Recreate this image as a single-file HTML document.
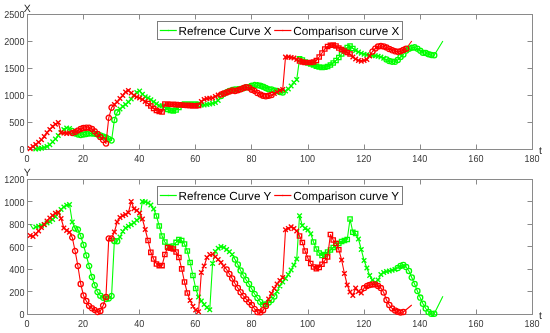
<!DOCTYPE html>
<html><head><meta charset="utf-8"><style>
html,body{margin:0;padding:0;background:#fff;width:550px;height:333px;overflow:hidden}
svg{display:block;text-rendering:geometricPrecision}
.tl{font-family:"Liberation Sans",Arial,sans-serif;font-size:9.2px;fill:#383838}
.al{font-family:"Liberation Sans",Arial,sans-serif;font-size:10.5px;fill:#2a2a2a}
.lg{font-family:"Liberation Sans",Arial,sans-serif;font-size:11.7px;fill:#000}
</style></head><body>
<svg width="550" height="333" viewBox="0 0 550 333">
<rect width="550" height="333" fill="#fff"/>
<path d="M27.5 149.5v-5M27.5 14.5v5M83.5 149.5v-5M83.5 14.5v5M139.5 149.5v-5M139.5 14.5v5M195.5 149.5v-5M195.5 14.5v5M251.5 149.5v-5M251.5 14.5v5M308.5 149.5v-5M308.5 14.5v5M364.5 149.5v-5M364.5 14.5v5M420.5 149.5v-5M420.5 14.5v5M476.5 149.5v-5M476.5 14.5v5M532.5 149.5v-5M532.5 14.5v5M27.5 149.5h5M532.5 149.5h-5M27.5 122.5h5M532.5 122.5h-5M27.5 95.5h5M532.5 95.5h-5M27.5 68.5h5M532.5 68.5h-5M27.5 41.5h5M532.5 41.5h-5M27.5 14.5h5M532.5 14.5h-5" stroke="#8a8a8a" stroke-width="1.0" fill="none"/>
<rect x="27.5" y="14.5" width="505" height="135" fill="none" stroke="#8a8a8a" stroke-width="1.0"/>
<text transform="translate(27 162) scale(0.98 1.1)" text-anchor="middle" class="tl">0</text>
<text transform="translate(83.11 162) scale(0.98 1.1)" text-anchor="middle" class="tl">20</text>
<text transform="translate(139.22 162) scale(0.98 1.1)" text-anchor="middle" class="tl">40</text>
<text transform="translate(195.33 162) scale(0.98 1.1)" text-anchor="middle" class="tl">60</text>
<text transform="translate(251.44 162) scale(0.98 1.1)" text-anchor="middle" class="tl">80</text>
<text transform="translate(307.56 162) scale(0.98 1.1)" text-anchor="middle" class="tl">100</text>
<text transform="translate(363.67 162) scale(0.98 1.1)" text-anchor="middle" class="tl">120</text>
<text transform="translate(419.78 162) scale(0.98 1.1)" text-anchor="middle" class="tl">140</text>
<text transform="translate(475.89 162) scale(0.98 1.1)" text-anchor="middle" class="tl">160</text>
<text transform="translate(532 162) scale(0.98 1.1)" text-anchor="middle" class="tl">180</text>
<text transform="translate(24.4 153.2) scale(0.98 1.1)" text-anchor="end" class="tl">0</text>
<text transform="translate(24.4 126.2) scale(0.98 1.1)" text-anchor="end" class="tl">500</text>
<text transform="translate(24.4 99.2) scale(0.98 1.1)" text-anchor="end" class="tl">1000</text>
<text transform="translate(24.4 72.2) scale(0.98 1.1)" text-anchor="end" class="tl">1500</text>
<text transform="translate(24.4 45.2) scale(0.98 1.1)" text-anchor="end" class="tl">2000</text>
<text transform="translate(24.4 18.2) scale(0.98 1.1)" text-anchor="end" class="tl">2500</text>
<text x="27.2" y="11.9" text-anchor="middle" class="al">X</text>
<text x="540.5" y="154" text-anchor="middle" class="al">t</text>
<polyline points="406.15,48.8 411.76,41" fill="none" stroke="#ff0000" stroke-width="1.1" stroke-linejoin="round"/>
<polyline points="35.82,149 38.62,148.6 41.43,148.2 44.23,147.5 47.04,146.5 49.84,144.7 52.65,141.8 55.46,139 58.26,135.5 61.07,132.5 63.87,129.5 66.68,128 69.48,128.5 72.29,131 75.09,133.5 77.9,134.5 80.71,135 83.51,134.5 86.32,134 89.12,133.5 91.93,133.5 94.73,133.8 97.54,134.5 100.34,135.5 103.15,136.5 105.96,137.5 108.76,139 111.57,140.5 114.37,120 117.18,112.4 119.98,109 122.79,106.5 125.59,104.5 128.4,102 131.21,99 134.01,95.5 136.82,92.5 139.62,91 142.43,94.2 145.23,96.7 148.04,98 150.84,99.7 153.65,101.7 156.46,103.7 159.26,105.7 162.07,105.8 164.87,107.5 167.68,109.5 170.48,110.5 173.29,111 176.09,110 178.9,107.5 181.71,105 184.51,104 187.32,104 190.12,104 192.93,104 195.73,104 198.54,104.5 201.34,105 204.15,105 206.96,104.5 209.76,104 212.57,103.4 215.37,102.5 218.18,100.5 220.98,96 223.79,93.8 226.59,92.2 229.4,91.1 232.21,90.1 235.01,89.4 237.82,89.2 240.62,89 243.43,88.2 246.23,87.2 249.04,87.1 251.84,85.8 254.65,85 257.46,85.3 260.26,85.8 263.07,86.8 265.87,88.1 268.68,89.3 271.48,89.5 274.29,90.5 277.09,91 279.9,92 282.71,92.5 285.51,91 288.32,89 291.12,86 293.93,82.5 296.73,79.6 299.54,58.9 302.34,60 305.15,62 307.96,62.8 310.76,63.8 313.57,65 316.37,66.2 319.18,67 321.98,67.3 324.79,67.2 327.59,66.5 330.4,65 333.21,63 336.01,60.5 338.82,57.5 341.62,54 344.43,50.5 347.23,47.5 350.04,46 352.84,48.5 355.65,50.5 358.46,52 361.26,53.2 364.07,54.2 366.87,54.8 369.68,55.2 372.48,55.5 375.29,55.8 378.09,56.3 380.9,57 383.71,58.3 386.51,59.5 389.32,61 392.12,61.8 394.93,61.8 397.73,60 400.54,57 403.34,54.5 406.15,50.5 408.96,48.7 411.76,47.7 414.57,47.4 417.37,48.7 420.18,50.7 422.98,52.7 425.79,53 428.59,54.3 431.4,55 434.21,55.2 442.9,41" fill="none" stroke="#00ff00" stroke-width="1.1" stroke-linejoin="round"/>
<path d="M162.72 105.35h4.3v4.3h-4.3zM165.53 107.35h4.3v4.3h-4.3zM168.33 108.35h4.3v4.3h-4.3zM171.14 108.85h4.3v4.3h-4.3zM173.94 107.85h4.3v4.3h-4.3zM176.75 105.35h4.3v4.3h-4.3zM179.56 102.85h4.3v4.3h-4.3zM182.36 101.85h4.3v4.3h-4.3zM185.17 101.85h4.3v4.3h-4.3zM187.97 101.85h4.3v4.3h-4.3zM190.78 101.85h4.3v4.3h-4.3zM193.58 101.85h4.3v4.3h-4.3zM196.39 102.35h4.3v4.3h-4.3zM297.39 56.75h4.3v4.3h-4.3zM300.19 57.85h4.3v4.3h-4.3zM303 59.85h4.3v4.3h-4.3zM305.81 60.65h4.3v4.3h-4.3zM308.61 61.65h4.3v4.3h-4.3zM311.42 62.85h4.3v4.3h-4.3zM314.22 64.05h4.3v4.3h-4.3zM317.03 64.85h4.3v4.3h-4.3zM319.83 65.15h4.3v4.3h-4.3zM322.64 65.05h4.3v4.3h-4.3zM325.44 64.35h4.3v4.3h-4.3zM328.25 62.85h4.3v4.3h-4.3zM331.06 60.85h4.3v4.3h-4.3zM333.86 58.35h4.3v4.3h-4.3zM336.67 55.35h4.3v4.3h-4.3zM339.47 51.85h4.3v4.3h-4.3zM342.28 48.35h4.3v4.3h-4.3zM345.08 45.35h4.3v4.3h-4.3zM347.89 43.85h4.3v4.3h-4.3zM350.69 46.35h4.3v4.3h-4.3z" fill="none" stroke="#00ff00" stroke-width="1.35"/>
<path d="M69.69 131a2.6 2.6 0 1 0 5.2 0a2.6 2.6 0 1 0 -5.2 0M72.49 133.5a2.6 2.6 0 1 0 5.2 0a2.6 2.6 0 1 0 -5.2 0M75.3 134.5a2.6 2.6 0 1 0 5.2 0a2.6 2.6 0 1 0 -5.2 0M78.11 135a2.6 2.6 0 1 0 5.2 0a2.6 2.6 0 1 0 -5.2 0M80.91 134.5a2.6 2.6 0 1 0 5.2 0a2.6 2.6 0 1 0 -5.2 0M83.72 134a2.6 2.6 0 1 0 5.2 0a2.6 2.6 0 1 0 -5.2 0M86.52 133.5a2.6 2.6 0 1 0 5.2 0a2.6 2.6 0 1 0 -5.2 0M89.33 133.5a2.6 2.6 0 1 0 5.2 0a2.6 2.6 0 1 0 -5.2 0M92.13 133.8a2.6 2.6 0 1 0 5.2 0a2.6 2.6 0 1 0 -5.2 0M94.94 134.5a2.6 2.6 0 1 0 5.2 0a2.6 2.6 0 1 0 -5.2 0M97.74 135.5a2.6 2.6 0 1 0 5.2 0a2.6 2.6 0 1 0 -5.2 0M100.55 136.5a2.6 2.6 0 1 0 5.2 0a2.6 2.6 0 1 0 -5.2 0M103.36 137.5a2.6 2.6 0 1 0 5.2 0a2.6 2.6 0 1 0 -5.2 0M106.16 139a2.6 2.6 0 1 0 5.2 0a2.6 2.6 0 1 0 -5.2 0M108.97 140.5a2.6 2.6 0 1 0 5.2 0a2.6 2.6 0 1 0 -5.2 0M111.77 120a2.6 2.6 0 1 0 5.2 0a2.6 2.6 0 1 0 -5.2 0M114.58 112.4a2.6 2.6 0 1 0 5.2 0a2.6 2.6 0 1 0 -5.2 0M218.38 96a2.6 2.6 0 1 0 5.2 0a2.6 2.6 0 1 0 -5.2 0M221.19 93.8a2.6 2.6 0 1 0 5.2 0a2.6 2.6 0 1 0 -5.2 0M223.99 92.2a2.6 2.6 0 1 0 5.2 0a2.6 2.6 0 1 0 -5.2 0M226.8 91.1a2.6 2.6 0 1 0 5.2 0a2.6 2.6 0 1 0 -5.2 0M229.61 90.1a2.6 2.6 0 1 0 5.2 0a2.6 2.6 0 1 0 -5.2 0M232.41 89.4a2.6 2.6 0 1 0 5.2 0a2.6 2.6 0 1 0 -5.2 0M235.22 89.2a2.6 2.6 0 1 0 5.2 0a2.6 2.6 0 1 0 -5.2 0M238.02 89a2.6 2.6 0 1 0 5.2 0a2.6 2.6 0 1 0 -5.2 0M240.83 88.2a2.6 2.6 0 1 0 5.2 0a2.6 2.6 0 1 0 -5.2 0M243.63 87.2a2.6 2.6 0 1 0 5.2 0a2.6 2.6 0 1 0 -5.2 0M246.44 87.1a2.6 2.6 0 1 0 5.2 0a2.6 2.6 0 1 0 -5.2 0M249.24 85.8a2.6 2.6 0 1 0 5.2 0a2.6 2.6 0 1 0 -5.2 0M252.05 85a2.6 2.6 0 1 0 5.2 0a2.6 2.6 0 1 0 -5.2 0M254.86 85.3a2.6 2.6 0 1 0 5.2 0a2.6 2.6 0 1 0 -5.2 0M257.66 85.8a2.6 2.6 0 1 0 5.2 0a2.6 2.6 0 1 0 -5.2 0M260.47 86.8a2.6 2.6 0 1 0 5.2 0a2.6 2.6 0 1 0 -5.2 0M263.27 88.1a2.6 2.6 0 1 0 5.2 0a2.6 2.6 0 1 0 -5.2 0M266.08 89.3a2.6 2.6 0 1 0 5.2 0a2.6 2.6 0 1 0 -5.2 0M268.88 89.5a2.6 2.6 0 1 0 5.2 0a2.6 2.6 0 1 0 -5.2 0M271.69 90.5a2.6 2.6 0 1 0 5.2 0a2.6 2.6 0 1 0 -5.2 0M274.49 91a2.6 2.6 0 1 0 5.2 0a2.6 2.6 0 1 0 -5.2 0M277.3 92a2.6 2.6 0 1 0 5.2 0a2.6 2.6 0 1 0 -5.2 0M280.11 92.5a2.6 2.6 0 1 0 5.2 0a2.6 2.6 0 1 0 -5.2 0M383.91 59.5a2.6 2.6 0 1 0 5.2 0a2.6 2.6 0 1 0 -5.2 0M386.72 61a2.6 2.6 0 1 0 5.2 0a2.6 2.6 0 1 0 -5.2 0M389.52 61.8a2.6 2.6 0 1 0 5.2 0a2.6 2.6 0 1 0 -5.2 0M392.33 61.8a2.6 2.6 0 1 0 5.2 0a2.6 2.6 0 1 0 -5.2 0M395.13 60a2.6 2.6 0 1 0 5.2 0a2.6 2.6 0 1 0 -5.2 0M397.94 57a2.6 2.6 0 1 0 5.2 0a2.6 2.6 0 1 0 -5.2 0M400.74 54.5a2.6 2.6 0 1 0 5.2 0a2.6 2.6 0 1 0 -5.2 0M403.55 50.5a2.6 2.6 0 1 0 5.2 0a2.6 2.6 0 1 0 -5.2 0M406.36 48.7a2.6 2.6 0 1 0 5.2 0a2.6 2.6 0 1 0 -5.2 0M409.16 47.7a2.6 2.6 0 1 0 5.2 0a2.6 2.6 0 1 0 -5.2 0M411.97 47.4a2.6 2.6 0 1 0 5.2 0a2.6 2.6 0 1 0 -5.2 0M414.77 48.7a2.6 2.6 0 1 0 5.2 0a2.6 2.6 0 1 0 -5.2 0M417.58 50.7a2.6 2.6 0 1 0 5.2 0a2.6 2.6 0 1 0 -5.2 0M420.38 52.7a2.6 2.6 0 1 0 5.2 0a2.6 2.6 0 1 0 -5.2 0M423.19 53a2.6 2.6 0 1 0 5.2 0a2.6 2.6 0 1 0 -5.2 0M425.99 54.3a2.6 2.6 0 1 0 5.2 0a2.6 2.6 0 1 0 -5.2 0M428.8 55a2.6 2.6 0 1 0 5.2 0a2.6 2.6 0 1 0 -5.2 0M431.61 55.2a2.6 2.6 0 1 0 5.2 0a2.6 2.6 0 1 0 -5.2 0" fill="none" stroke="#00ff00" stroke-width="1.35"/>
<path d="M33.52 146.7L38.12 151.3M33.52 151.3L38.12 146.7M36.32 146.3L40.92 150.9M36.32 150.9L40.92 146.3M39.13 145.9L43.73 150.5M39.13 150.5L43.73 145.9M41.93 145.2L46.53 149.8M41.93 149.8L46.53 145.2M44.74 144.2L49.34 148.8M44.74 148.8L49.34 144.2M47.54 142.4L52.14 147M47.54 147L52.14 142.4M50.35 139.5L54.95 144.1M50.35 144.1L54.95 139.5M53.16 136.7L57.76 141.3M53.16 141.3L57.76 136.7M55.96 133.2L60.56 137.8M55.96 137.8L60.56 133.2M58.77 130.2L63.37 134.8M58.77 134.8L63.37 130.2M61.57 127.2L66.17 131.8M61.57 131.8L66.17 127.2M64.38 125.7L68.98 130.3M64.38 130.3L68.98 125.7M67.18 126.2L71.78 130.8M67.18 130.8L71.78 126.2M117.68 106.7L122.28 111.3M117.68 111.3L122.28 106.7M120.49 104.2L125.09 108.8M120.49 108.8L125.09 104.2M123.29 102.2L127.89 106.8M123.29 106.8L127.89 102.2M126.1 99.7L130.7 104.3M126.1 104.3L130.7 99.7M128.91 96.7L133.51 101.3M128.91 101.3L133.51 96.7M131.71 93.2L136.31 97.8M131.71 97.8L136.31 93.2M134.52 90.2L139.12 94.8M134.52 94.8L139.12 90.2M137.32 88.7L141.92 93.3M137.32 93.3L141.92 88.7M140.13 91.9L144.73 96.5M140.13 96.5L144.73 91.9M142.93 94.4L147.53 99M142.93 99L147.53 94.4M145.74 95.7L150.34 100.3M145.74 100.3L150.34 95.7M148.54 97.4L153.14 102M148.54 102L153.14 97.4M151.35 99.4L155.95 104M151.35 104L155.95 99.4M154.16 101.4L158.76 106M154.16 106L158.76 101.4M156.96 103.4L161.56 108M156.96 108L161.56 103.4M159.77 103.5L164.37 108.1M159.77 108.1L164.37 103.5M199.04 102.7L203.64 107.3M199.04 107.3L203.64 102.7M201.85 102.7L206.45 107.3M201.85 107.3L206.45 102.7M204.66 102.2L209.26 106.8M204.66 106.8L209.26 102.2M207.46 101.7L212.06 106.3M207.46 106.3L212.06 101.7M210.27 101.1L214.87 105.7M210.27 105.7L214.87 101.1M213.07 100.2L217.67 104.8M213.07 104.8L217.67 100.2M215.88 98.2L220.48 102.8M215.88 102.8L220.48 98.2M283.21 88.7L287.81 93.3M283.21 93.3L287.81 88.7M286.02 86.7L290.62 91.3M286.02 91.3L290.62 86.7M288.82 83.7L293.42 88.3M288.82 88.3L293.42 83.7M291.63 80.2L296.23 84.8M291.63 84.8L296.23 80.2M294.43 77.3L299.03 81.9M294.43 81.9L299.03 77.3M353.35 48.2L357.95 52.8M353.35 52.8L357.95 48.2M356.16 49.7L360.76 54.3M356.16 54.3L360.76 49.7M358.96 50.9L363.56 55.5M358.96 55.5L363.56 50.9M361.77 51.9L366.37 56.5M361.77 56.5L366.37 51.9M364.57 52.5L369.17 57.1M364.57 57.1L369.17 52.5M367.38 52.9L371.98 57.5M367.38 57.5L371.98 52.9M370.18 53.2L374.78 57.8M370.18 57.8L374.78 53.2M372.99 53.5L377.59 58.1M372.99 58.1L377.59 53.5M375.79 54L380.39 58.6M375.79 58.6L380.39 54M378.6 54.7L383.2 59.3M378.6 59.3L383.2 54.7M381.41 56L386.01 60.6M381.41 60.6L386.01 56" fill="none" stroke="#00ff00" stroke-width="1.35"/>
<polyline points="30.21,148.6 33.01,146.5 35.82,144.5 38.62,142.3 41.43,139.8 44.23,136.5 47.04,132.7 49.84,129.5 52.65,126.5 55.46,124.3 58.26,122.5 61.07,132.7 63.87,133 66.68,133.5 69.48,133 72.29,133 75.09,132 77.9,130.5 80.71,129 83.51,128 86.32,127.7 89.12,127.8 91.93,129 94.73,131.4 97.54,134 100.34,137 103.15,140 105.96,143.5 108.76,117.8 111.57,107.6 114.37,104.5 117.18,102 119.98,98.5 122.79,95.5 125.59,92 128.4,90.5 131.21,93 134.01,95.5 136.82,97 139.62,98 142.43,99.5 145.23,101.5 148.04,103.5 150.84,106 153.65,108.5 156.46,110.5 159.26,111.5 162.07,112 164.87,104 167.68,104 170.48,104.2 173.29,104.4 176.09,104.6 178.9,104.8 181.71,105 184.51,105.2 187.32,105.4 190.12,105.6 192.93,105.8 195.73,106 198.54,105.5 201.34,101.5 204.15,99.5 206.96,98.5 209.76,98.2 212.57,98 215.37,96.5 218.18,95 220.98,94.5 223.79,93.5 226.59,92.5 229.4,91.5 232.21,90.5 235.01,91 237.82,90.2 240.62,89.2 243.43,88 246.23,87.2 249.04,87.7 251.84,89.7 254.65,91 257.46,93 260.26,94.5 263.07,95.8 265.87,96.2 268.68,95.8 271.48,95 274.29,93.5 277.09,92 279.9,90.5 282.71,89.5 285.51,57.1 288.32,57 291.12,57.5 293.93,58 296.73,59.5 299.54,61 302.34,62 305.15,62.5 307.96,62.5 310.76,62.5 313.57,62 316.37,60.5 319.18,57 321.98,53 324.79,49 327.59,46.5 330.4,45.2 333.21,45 336.01,46 338.82,48 341.62,49.5 344.43,51 347.23,52.5 350.04,54 352.84,57 355.65,59 358.46,60.5 361.26,61.2 364.07,60.5 366.87,59.5 369.68,56 372.48,51.5 375.29,48.5 378.09,46.5 380.9,46 383.71,46.5 386.51,47.5 389.32,49 392.12,50.3 394.93,51.3 397.73,51.7 400.54,51.3 403.34,50 406.15,48.8" fill="none" stroke="#ff0000" stroke-width="1.1" stroke-linejoin="round"/>
<path d="M145.89 101.35h4.3v4.3h-4.3zM148.69 103.85h4.3v4.3h-4.3zM151.5 106.35h4.3v4.3h-4.3zM154.31 108.35h4.3v4.3h-4.3zM157.11 109.35h4.3v4.3h-4.3zM159.92 109.85h4.3v4.3h-4.3zM162.72 101.85h4.3v4.3h-4.3zM165.53 101.85h4.3v4.3h-4.3zM168.33 102.05h4.3v4.3h-4.3zM171.14 102.25h4.3v4.3h-4.3zM173.94 102.45h4.3v4.3h-4.3zM176.75 102.65h4.3v4.3h-4.3zM179.56 102.85h4.3v4.3h-4.3zM182.36 103.05h4.3v4.3h-4.3zM185.17 103.25h4.3v4.3h-4.3zM187.97 103.45h4.3v4.3h-4.3zM190.78 103.65h4.3v4.3h-4.3zM193.58 103.85h4.3v4.3h-4.3zM196.39 103.35h4.3v4.3h-4.3zM297.39 58.85h4.3v4.3h-4.3zM300.19 59.85h4.3v4.3h-4.3zM303 60.35h4.3v4.3h-4.3zM305.81 60.35h4.3v4.3h-4.3zM308.61 60.35h4.3v4.3h-4.3zM311.42 59.85h4.3v4.3h-4.3zM314.22 58.35h4.3v4.3h-4.3zM317.03 54.85h4.3v4.3h-4.3zM319.83 50.85h4.3v4.3h-4.3zM322.64 46.85h4.3v4.3h-4.3zM325.44 44.35h4.3v4.3h-4.3zM328.25 43.05h4.3v4.3h-4.3zM331.06 42.85h4.3v4.3h-4.3zM333.86 43.85h4.3v4.3h-4.3zM336.67 45.85h4.3v4.3h-4.3zM339.47 47.35h4.3v4.3h-4.3zM342.28 48.85h4.3v4.3h-4.3zM345.08 50.35h4.3v4.3h-4.3zM347.89 51.85h4.3v4.3h-4.3z" fill="none" stroke="#ff0000" stroke-width="1.35"/>
<path d="M69.69 133a2.6 2.6 0 1 0 5.2 0a2.6 2.6 0 1 0 -5.2 0M72.49 132a2.6 2.6 0 1 0 5.2 0a2.6 2.6 0 1 0 -5.2 0M75.3 130.5a2.6 2.6 0 1 0 5.2 0a2.6 2.6 0 1 0 -5.2 0M78.11 129a2.6 2.6 0 1 0 5.2 0a2.6 2.6 0 1 0 -5.2 0M80.91 128a2.6 2.6 0 1 0 5.2 0a2.6 2.6 0 1 0 -5.2 0M83.72 127.7a2.6 2.6 0 1 0 5.2 0a2.6 2.6 0 1 0 -5.2 0M86.52 127.8a2.6 2.6 0 1 0 5.2 0a2.6 2.6 0 1 0 -5.2 0M89.33 129a2.6 2.6 0 1 0 5.2 0a2.6 2.6 0 1 0 -5.2 0M92.13 131.4a2.6 2.6 0 1 0 5.2 0a2.6 2.6 0 1 0 -5.2 0M94.94 134a2.6 2.6 0 1 0 5.2 0a2.6 2.6 0 1 0 -5.2 0M97.74 137a2.6 2.6 0 1 0 5.2 0a2.6 2.6 0 1 0 -5.2 0M100.55 140a2.6 2.6 0 1 0 5.2 0a2.6 2.6 0 1 0 -5.2 0M103.36 143.5a2.6 2.6 0 1 0 5.2 0a2.6 2.6 0 1 0 -5.2 0M106.16 117.8a2.6 2.6 0 1 0 5.2 0a2.6 2.6 0 1 0 -5.2 0M108.97 107.6a2.6 2.6 0 1 0 5.2 0a2.6 2.6 0 1 0 -5.2 0M218.38 94.5a2.6 2.6 0 1 0 5.2 0a2.6 2.6 0 1 0 -5.2 0M221.19 93.5a2.6 2.6 0 1 0 5.2 0a2.6 2.6 0 1 0 -5.2 0M223.99 92.5a2.6 2.6 0 1 0 5.2 0a2.6 2.6 0 1 0 -5.2 0M226.8 91.5a2.6 2.6 0 1 0 5.2 0a2.6 2.6 0 1 0 -5.2 0M229.61 90.5a2.6 2.6 0 1 0 5.2 0a2.6 2.6 0 1 0 -5.2 0M232.41 91a2.6 2.6 0 1 0 5.2 0a2.6 2.6 0 1 0 -5.2 0M235.22 90.2a2.6 2.6 0 1 0 5.2 0a2.6 2.6 0 1 0 -5.2 0M238.02 89.2a2.6 2.6 0 1 0 5.2 0a2.6 2.6 0 1 0 -5.2 0M240.83 88a2.6 2.6 0 1 0 5.2 0a2.6 2.6 0 1 0 -5.2 0M243.63 87.2a2.6 2.6 0 1 0 5.2 0a2.6 2.6 0 1 0 -5.2 0M246.44 87.7a2.6 2.6 0 1 0 5.2 0a2.6 2.6 0 1 0 -5.2 0M249.24 89.7a2.6 2.6 0 1 0 5.2 0a2.6 2.6 0 1 0 -5.2 0M252.05 91a2.6 2.6 0 1 0 5.2 0a2.6 2.6 0 1 0 -5.2 0M254.86 93a2.6 2.6 0 1 0 5.2 0a2.6 2.6 0 1 0 -5.2 0M257.66 94.5a2.6 2.6 0 1 0 5.2 0a2.6 2.6 0 1 0 -5.2 0M260.47 95.8a2.6 2.6 0 1 0 5.2 0a2.6 2.6 0 1 0 -5.2 0M263.27 96.2a2.6 2.6 0 1 0 5.2 0a2.6 2.6 0 1 0 -5.2 0M266.08 95.8a2.6 2.6 0 1 0 5.2 0a2.6 2.6 0 1 0 -5.2 0M268.88 95a2.6 2.6 0 1 0 5.2 0a2.6 2.6 0 1 0 -5.2 0M369.88 51.5a2.6 2.6 0 1 0 5.2 0a2.6 2.6 0 1 0 -5.2 0M372.69 48.5a2.6 2.6 0 1 0 5.2 0a2.6 2.6 0 1 0 -5.2 0M375.49 46.5a2.6 2.6 0 1 0 5.2 0a2.6 2.6 0 1 0 -5.2 0M378.3 46a2.6 2.6 0 1 0 5.2 0a2.6 2.6 0 1 0 -5.2 0M381.11 46.5a2.6 2.6 0 1 0 5.2 0a2.6 2.6 0 1 0 -5.2 0M383.91 47.5a2.6 2.6 0 1 0 5.2 0a2.6 2.6 0 1 0 -5.2 0M386.72 49a2.6 2.6 0 1 0 5.2 0a2.6 2.6 0 1 0 -5.2 0M389.52 50.3a2.6 2.6 0 1 0 5.2 0a2.6 2.6 0 1 0 -5.2 0M392.33 51.3a2.6 2.6 0 1 0 5.2 0a2.6 2.6 0 1 0 -5.2 0M395.13 51.7a2.6 2.6 0 1 0 5.2 0a2.6 2.6 0 1 0 -5.2 0M397.94 51.3a2.6 2.6 0 1 0 5.2 0a2.6 2.6 0 1 0 -5.2 0M400.74 50a2.6 2.6 0 1 0 5.2 0a2.6 2.6 0 1 0 -5.2 0M403.55 48.8a2.6 2.6 0 1 0 5.2 0a2.6 2.6 0 1 0 -5.2 0" fill="none" stroke="#ff0000" stroke-width="1.35"/>
<path d="M27.91 146.3L32.51 150.9M27.91 150.9L32.51 146.3M30.71 144.2L35.31 148.8M30.71 148.8L35.31 144.2M33.52 142.2L38.12 146.8M33.52 146.8L38.12 142.2M36.32 140L40.92 144.6M36.32 144.6L40.92 140M39.13 137.5L43.73 142.1M39.13 142.1L43.73 137.5M41.93 134.2L46.53 138.8M41.93 138.8L46.53 134.2M44.74 130.4L49.34 135M44.74 135L49.34 130.4M47.54 127.2L52.14 131.8M47.54 131.8L52.14 127.2M50.35 124.2L54.95 128.8M50.35 128.8L54.95 124.2M53.16 122L57.76 126.6M53.16 126.6L57.76 122M55.96 120.2L60.56 124.8M55.96 124.8L60.56 120.2M58.77 130.4L63.37 135M58.77 135L63.37 130.4M61.57 130.7L66.17 135.3M61.57 135.3L66.17 130.7M64.38 131.2L68.98 135.8M64.38 135.8L68.98 131.2M67.18 130.7L71.78 135.3M67.18 135.3L71.78 130.7M112.07 102.2L116.67 106.8M112.07 106.8L116.67 102.2M114.88 99.7L119.48 104.3M114.88 104.3L119.48 99.7M117.68 96.2L122.28 100.8M117.68 100.8L122.28 96.2M120.49 93.2L125.09 97.8M120.49 97.8L125.09 93.2M123.29 89.7L127.89 94.3M123.29 94.3L127.89 89.7M126.1 88.2L130.7 92.8M126.1 92.8L130.7 88.2M128.91 90.7L133.51 95.3M128.91 95.3L133.51 90.7M131.71 93.2L136.31 97.8M131.71 97.8L136.31 93.2M134.52 94.7L139.12 99.3M134.52 99.3L139.12 94.7M137.32 95.7L141.92 100.3M137.32 100.3L141.92 95.7M140.13 97.2L144.73 101.8M140.13 101.8L144.73 97.2M142.93 99.2L147.53 103.8M142.93 103.8L147.53 99.2M199.04 99.2L203.64 103.8M199.04 103.8L203.64 99.2M201.85 97.2L206.45 101.8M201.85 101.8L206.45 97.2M204.66 96.2L209.26 100.8M204.66 100.8L209.26 96.2M207.46 95.9L212.06 100.5M207.46 100.5L212.06 95.9M210.27 95.7L214.87 100.3M210.27 100.3L214.87 95.7M213.07 94.2L217.67 98.8M213.07 98.8L217.67 94.2M215.88 92.7L220.48 97.3M215.88 97.3L220.48 92.7M271.99 91.2L276.59 95.8M271.99 95.8L276.59 91.2M274.79 89.7L279.39 94.3M274.79 94.3L279.39 89.7M277.6 88.2L282.2 92.8M277.6 92.8L282.2 88.2M280.41 87.2L285.01 91.8M280.41 91.8L285.01 87.2M283.21 54.8L287.81 59.4M283.21 59.4L287.81 54.8M286.02 54.7L290.62 59.3M286.02 59.3L290.62 54.7M288.82 55.2L293.42 59.8M288.82 59.8L293.42 55.2M291.63 55.7L296.23 60.3M291.63 60.3L296.23 55.7M294.43 57.2L299.03 61.8M294.43 61.8L299.03 57.2M350.54 54.7L355.14 59.3M350.54 59.3L355.14 54.7M353.35 56.7L357.95 61.3M353.35 61.3L357.95 56.7M356.16 58.2L360.76 62.8M356.16 62.8L360.76 58.2M358.96 58.9L363.56 63.5M358.96 63.5L363.56 58.9M361.77 58.2L366.37 62.8M361.77 62.8L366.37 58.2M364.57 57.2L369.17 61.8M364.57 61.8L369.17 57.2M367.38 53.7L371.98 58.3M367.38 58.3L371.98 53.7" fill="none" stroke="#ff0000" stroke-width="1.35"/>
<rect x="157.5" y="21.5" width="245" height="18" fill="#fff" stroke="#7d7d7d" stroke-width="1"/>
<path d="M159.8 30.5H176.8" stroke="#00ff00" stroke-width="1.2"/>
<circle cx="168.3" cy="30.5" r="0.75" fill="#00ff00"/>
<path d="M274.2 30.5H291.4" stroke="#ff0000" stroke-width="1.2"/>
<circle cx="282.8" cy="30.5" r="0.75" fill="#ff0000"/>
<text x="178.6" y="34.9" class="lg">Refrence Curve X</text>
<text x="293.3" y="34.9" class="lg">Comparison curve X</text>
<path d="M27.5 314.5v-5M27.5 179.5v5M83.5 314.5v-5M83.5 179.5v5M139.5 314.5v-5M139.5 179.5v5M195.5 314.5v-5M195.5 179.5v5M251.5 314.5v-5M251.5 179.5v5M308.5 314.5v-5M308.5 179.5v5M364.5 314.5v-5M364.5 179.5v5M420.5 314.5v-5M420.5 179.5v5M476.5 314.5v-5M476.5 179.5v5M532.5 314.5v-5M532.5 179.5v5M27.5 314.5h5M532.5 314.5h-5M27.5 291.5h5M532.5 291.5h-5M27.5 269.5h5M532.5 269.5h-5M27.5 246.5h5M532.5 246.5h-5M27.5 224.5h5M532.5 224.5h-5M27.5 201.5h5M532.5 201.5h-5M27.5 179.5h5M532.5 179.5h-5" stroke="#8a8a8a" stroke-width="1.0" fill="none"/>
<rect x="27.5" y="179.5" width="505" height="135" fill="none" stroke="#8a8a8a" stroke-width="1.0"/>
<text transform="translate(27 327) scale(0.98 1.1)" text-anchor="middle" class="tl">0</text>
<text transform="translate(83.11 327) scale(0.98 1.1)" text-anchor="middle" class="tl">20</text>
<text transform="translate(139.22 327) scale(0.98 1.1)" text-anchor="middle" class="tl">40</text>
<text transform="translate(195.33 327) scale(0.98 1.1)" text-anchor="middle" class="tl">60</text>
<text transform="translate(251.44 327) scale(0.98 1.1)" text-anchor="middle" class="tl">80</text>
<text transform="translate(307.56 327) scale(0.98 1.1)" text-anchor="middle" class="tl">100</text>
<text transform="translate(363.67 327) scale(0.98 1.1)" text-anchor="middle" class="tl">120</text>
<text transform="translate(419.78 327) scale(0.98 1.1)" text-anchor="middle" class="tl">140</text>
<text transform="translate(475.89 327) scale(0.98 1.1)" text-anchor="middle" class="tl">160</text>
<text transform="translate(532 327) scale(0.98 1.1)" text-anchor="middle" class="tl">180</text>
<text transform="translate(24.4 318.2) scale(0.98 1.1)" text-anchor="end" class="tl">0</text>
<text transform="translate(24.4 295.7) scale(0.98 1.1)" text-anchor="end" class="tl">200</text>
<text transform="translate(24.4 273.2) scale(0.98 1.1)" text-anchor="end" class="tl">400</text>
<text transform="translate(24.4 250.7) scale(0.98 1.1)" text-anchor="end" class="tl">600</text>
<text transform="translate(24.4 228.2) scale(0.98 1.1)" text-anchor="end" class="tl">800</text>
<text transform="translate(24.4 205.7) scale(0.98 1.1)" text-anchor="end" class="tl">1000</text>
<text transform="translate(24.4 183.2) scale(0.98 1.1)" text-anchor="end" class="tl">1200</text>
<text x="27.2" y="176.3" text-anchor="middle" class="al">Y</text>
<text x="540.5" y="319" text-anchor="middle" class="al">t</text>
<polyline points="30.21,224.3 33.01,228.8 35.82,227 38.62,226.2 41.43,225.5 44.23,224.8 47.04,223 49.84,221.5 52.65,219.5 55.46,216.5 58.26,213 61.07,209.5 63.87,207 66.68,205.3 69.48,204.5 72.29,222 75.09,228.5 77.9,229.5 80.71,236 83.51,245 86.32,255.5 89.12,266 91.93,277 94.73,285.3 97.54,292 100.34,295.7 103.15,297.8 105.96,299 108.76,298.5 111.57,296 114.37,241 117.18,241.2 119.98,237 122.79,231.5 125.59,228 128.4,226.2 131.21,224.6 134.01,222.8 136.82,220.2 139.62,218 142.43,201.6 145.23,201.8 148.04,203 150.84,205 153.65,209 156.46,216 159.26,226 162.07,236 164.87,242 167.68,246.5 170.48,247.5 173.29,246 176.09,242.4 178.9,239.5 181.71,240.5 184.51,244 187.32,251 190.12,262.5 192.93,275.5 195.73,288.5 198.54,297 201.34,301 204.15,304.5 206.96,307.5 209.76,309.8 212.57,263.5 215.37,251.5 218.18,248.2 220.98,246.6 223.79,247.5 226.59,249.5 229.4,251.8 232.21,254.5 235.01,259.5 237.82,264.5 240.62,270.5 243.43,275.5 246.23,280 249.04,284 251.84,289 254.65,294 257.46,298 260.26,302 263.07,304.8 265.87,304.2 268.68,302.5 271.48,300 274.29,296.5 277.09,291.5 279.9,286 282.71,282 285.51,278.5 288.32,274.6 291.12,270 293.93,265 296.73,259 299.54,215.7 302.34,225.5 305.15,228.3 307.96,230 310.76,233.9 313.57,242 316.37,249 319.18,253 321.98,255.5 324.79,254.5 327.59,252 330.4,250 333.21,247.5 336.01,245.5 338.82,243.5 341.62,241.5 344.43,240.5 347.23,239.5 350.04,219 352.84,232.2 355.65,233.5 358.46,239 361.26,249.5 364.07,260.5 366.87,268 369.68,275.5 372.48,280 375.29,282.5 378.09,280 380.9,274.5 383.71,272.5 386.51,271.5 389.32,271 392.12,270.3 394.93,269.5 397.73,268 400.54,266 403.34,265 406.15,267 408.96,271 411.76,277.5 414.57,284 417.37,291 420.18,297.6 422.98,303.8 425.79,308.5 428.59,312 431.4,313.8 434.21,313.8 442.9,296.3" fill="none" stroke="#00ff00" stroke-width="1.1" stroke-linejoin="round"/>
<path d="M154.31 213.85h4.3v4.3h-4.3zM157.11 223.85h4.3v4.3h-4.3zM159.92 233.85h4.3v4.3h-4.3zM162.72 239.85h4.3v4.3h-4.3zM165.53 244.35h4.3v4.3h-4.3zM168.33 245.35h4.3v4.3h-4.3zM171.14 243.85h4.3v4.3h-4.3zM173.94 240.25h4.3v4.3h-4.3zM176.75 237.35h4.3v4.3h-4.3zM179.56 238.35h4.3v4.3h-4.3zM182.36 241.85h4.3v4.3h-4.3zM185.17 248.85h4.3v4.3h-4.3zM187.97 260.35h4.3v4.3h-4.3zM190.78 273.35h4.3v4.3h-4.3zM193.58 286.35h4.3v4.3h-4.3zM311.42 239.85h4.3v4.3h-4.3zM314.22 246.85h4.3v4.3h-4.3zM317.03 250.85h4.3v4.3h-4.3zM319.83 253.35h4.3v4.3h-4.3zM322.64 252.35h4.3v4.3h-4.3zM325.44 249.85h4.3v4.3h-4.3zM328.25 247.85h4.3v4.3h-4.3zM331.06 245.35h4.3v4.3h-4.3zM333.86 243.35h4.3v4.3h-4.3zM336.67 241.35h4.3v4.3h-4.3zM339.47 239.35h4.3v4.3h-4.3zM342.28 238.35h4.3v4.3h-4.3zM345.08 237.35h4.3v4.3h-4.3zM347.89 216.85h4.3v4.3h-4.3zM350.69 230.05h4.3v4.3h-4.3zM353.5 231.35h4.3v4.3h-4.3z" fill="none" stroke="#00ff00" stroke-width="1.35"/>
<path d="M72.49 228.5a2.6 2.6 0 1 0 5.2 0a2.6 2.6 0 1 0 -5.2 0M75.3 229.5a2.6 2.6 0 1 0 5.2 0a2.6 2.6 0 1 0 -5.2 0M78.11 236a2.6 2.6 0 1 0 5.2 0a2.6 2.6 0 1 0 -5.2 0M80.91 245a2.6 2.6 0 1 0 5.2 0a2.6 2.6 0 1 0 -5.2 0M83.72 255.5a2.6 2.6 0 1 0 5.2 0a2.6 2.6 0 1 0 -5.2 0M86.52 266a2.6 2.6 0 1 0 5.2 0a2.6 2.6 0 1 0 -5.2 0M89.33 277a2.6 2.6 0 1 0 5.2 0a2.6 2.6 0 1 0 -5.2 0M92.13 285.3a2.6 2.6 0 1 0 5.2 0a2.6 2.6 0 1 0 -5.2 0M94.94 292a2.6 2.6 0 1 0 5.2 0a2.6 2.6 0 1 0 -5.2 0M97.74 295.7a2.6 2.6 0 1 0 5.2 0a2.6 2.6 0 1 0 -5.2 0M100.55 297.8a2.6 2.6 0 1 0 5.2 0a2.6 2.6 0 1 0 -5.2 0M103.36 299a2.6 2.6 0 1 0 5.2 0a2.6 2.6 0 1 0 -5.2 0M106.16 298.5a2.6 2.6 0 1 0 5.2 0a2.6 2.6 0 1 0 -5.2 0M108.97 296a2.6 2.6 0 1 0 5.2 0a2.6 2.6 0 1 0 -5.2 0M111.77 241a2.6 2.6 0 1 0 5.2 0a2.6 2.6 0 1 0 -5.2 0M114.58 241.2a2.6 2.6 0 1 0 5.2 0a2.6 2.6 0 1 0 -5.2 0M232.41 259.5a2.6 2.6 0 1 0 5.2 0a2.6 2.6 0 1 0 -5.2 0M235.22 264.5a2.6 2.6 0 1 0 5.2 0a2.6 2.6 0 1 0 -5.2 0M238.02 270.5a2.6 2.6 0 1 0 5.2 0a2.6 2.6 0 1 0 -5.2 0M240.83 275.5a2.6 2.6 0 1 0 5.2 0a2.6 2.6 0 1 0 -5.2 0M243.63 280a2.6 2.6 0 1 0 5.2 0a2.6 2.6 0 1 0 -5.2 0M246.44 284a2.6 2.6 0 1 0 5.2 0a2.6 2.6 0 1 0 -5.2 0M249.24 289a2.6 2.6 0 1 0 5.2 0a2.6 2.6 0 1 0 -5.2 0M252.05 294a2.6 2.6 0 1 0 5.2 0a2.6 2.6 0 1 0 -5.2 0M254.86 298a2.6 2.6 0 1 0 5.2 0a2.6 2.6 0 1 0 -5.2 0M257.66 302a2.6 2.6 0 1 0 5.2 0a2.6 2.6 0 1 0 -5.2 0M260.47 304.8a2.6 2.6 0 1 0 5.2 0a2.6 2.6 0 1 0 -5.2 0M263.27 304.2a2.6 2.6 0 1 0 5.2 0a2.6 2.6 0 1 0 -5.2 0M266.08 302.5a2.6 2.6 0 1 0 5.2 0a2.6 2.6 0 1 0 -5.2 0M268.88 300a2.6 2.6 0 1 0 5.2 0a2.6 2.6 0 1 0 -5.2 0M271.69 296.5a2.6 2.6 0 1 0 5.2 0a2.6 2.6 0 1 0 -5.2 0M395.13 268a2.6 2.6 0 1 0 5.2 0a2.6 2.6 0 1 0 -5.2 0M397.94 266a2.6 2.6 0 1 0 5.2 0a2.6 2.6 0 1 0 -5.2 0M400.74 265a2.6 2.6 0 1 0 5.2 0a2.6 2.6 0 1 0 -5.2 0M403.55 267a2.6 2.6 0 1 0 5.2 0a2.6 2.6 0 1 0 -5.2 0M406.36 271a2.6 2.6 0 1 0 5.2 0a2.6 2.6 0 1 0 -5.2 0M409.16 277.5a2.6 2.6 0 1 0 5.2 0a2.6 2.6 0 1 0 -5.2 0M411.97 284a2.6 2.6 0 1 0 5.2 0a2.6 2.6 0 1 0 -5.2 0M414.77 291a2.6 2.6 0 1 0 5.2 0a2.6 2.6 0 1 0 -5.2 0M417.58 297.6a2.6 2.6 0 1 0 5.2 0a2.6 2.6 0 1 0 -5.2 0M420.38 303.8a2.6 2.6 0 1 0 5.2 0a2.6 2.6 0 1 0 -5.2 0M423.19 308.5a2.6 2.6 0 1 0 5.2 0a2.6 2.6 0 1 0 -5.2 0M425.99 312a2.6 2.6 0 1 0 5.2 0a2.6 2.6 0 1 0 -5.2 0M428.8 313.8a2.6 2.6 0 1 0 5.2 0a2.6 2.6 0 1 0 -5.2 0M431.61 313.8a2.6 2.6 0 1 0 5.2 0a2.6 2.6 0 1 0 -5.2 0" fill="none" stroke="#00ff00" stroke-width="1.35"/>
<path d="M33.52 224.7L38.12 229.3M33.52 229.3L38.12 224.7M36.32 223.9L40.92 228.5M36.32 228.5L40.92 223.9M39.13 223.2L43.73 227.8M39.13 227.8L43.73 223.2M41.93 222.5L46.53 227.1M41.93 227.1L46.53 222.5M44.74 220.7L49.34 225.3M44.74 225.3L49.34 220.7M47.54 219.2L52.14 223.8M47.54 223.8L52.14 219.2M50.35 217.2L54.95 221.8M50.35 221.8L54.95 217.2M53.16 214.2L57.76 218.8M53.16 218.8L57.76 214.2M55.96 210.7L60.56 215.3M55.96 215.3L60.56 210.7M58.77 207.2L63.37 211.8M58.77 211.8L63.37 207.2M61.57 204.7L66.17 209.3M61.57 209.3L66.17 204.7M64.38 203L68.98 207.6M64.38 207.6L68.98 203M67.18 202.2L71.78 206.8M67.18 206.8L71.78 202.2M69.99 219.7L74.59 224.3M69.99 224.3L74.59 219.7M117.68 234.7L122.28 239.3M117.68 239.3L122.28 234.7M120.49 229.2L125.09 233.8M120.49 233.8L125.09 229.2M123.29 225.7L127.89 230.3M123.29 230.3L127.89 225.7M126.1 223.9L130.7 228.5M126.1 228.5L130.7 223.9M128.91 222.3L133.51 226.9M128.91 226.9L133.51 222.3M131.71 220.5L136.31 225.1M131.71 225.1L136.31 220.5M134.52 217.9L139.12 222.5M134.52 222.5L139.12 217.9M137.32 215.7L141.92 220.3M137.32 220.3L141.92 215.7M140.13 199.3L144.73 203.9M140.13 203.9L144.73 199.3M142.93 199.5L147.53 204.1M142.93 204.1L147.53 199.5M145.74 200.7L150.34 205.3M145.74 205.3L150.34 200.7M148.54 202.7L153.14 207.3M148.54 207.3L153.14 202.7M151.35 206.7L155.95 211.3M151.35 211.3L155.95 206.7M196.24 294.7L200.84 299.3M196.24 299.3L200.84 294.7M199.04 298.7L203.64 303.3M199.04 303.3L203.64 298.7M201.85 302.2L206.45 306.8M201.85 306.8L206.45 302.2M204.66 305.2L209.26 309.8M204.66 309.8L209.26 305.2M207.46 307.5L212.06 312.1M207.46 312.1L212.06 307.5M210.27 261.2L214.87 265.8M210.27 265.8L214.87 261.2M213.07 249.2L217.67 253.8M213.07 253.8L217.67 249.2M215.88 245.9L220.48 250.5M215.88 250.5L220.48 245.9M218.68 244.3L223.28 248.9M218.68 248.9L223.28 244.3M221.49 245.2L226.09 249.8M221.49 249.8L226.09 245.2M224.29 247.2L228.89 251.8M224.29 251.8L228.89 247.2M227.1 249.5L231.7 254.1M227.1 254.1L231.7 249.5M229.91 252.2L234.51 256.8M229.91 256.8L234.51 252.2M274.79 289.2L279.39 293.8M274.79 293.8L279.39 289.2M277.6 283.7L282.2 288.3M277.6 288.3L282.2 283.7M280.41 279.7L285.01 284.3M280.41 284.3L285.01 279.7M283.21 276.2L287.81 280.8M283.21 280.8L287.81 276.2M286.02 272.3L290.62 276.9M286.02 276.9L290.62 272.3M288.82 267.7L293.42 272.3M288.82 272.3L293.42 267.7M291.63 262.7L296.23 267.3M291.63 267.3L296.23 262.7M294.43 256.7L299.03 261.3M294.43 261.3L299.03 256.7M297.24 213.4L301.84 218M297.24 218L301.84 213.4M300.04 223.2L304.64 227.8M300.04 227.8L304.64 223.2M302.85 226L307.45 230.6M302.85 230.6L307.45 226M305.66 227.7L310.26 232.3M305.66 232.3L310.26 227.7M308.46 231.6L313.06 236.2M308.46 236.2L313.06 231.6M356.16 236.7L360.76 241.3M356.16 241.3L360.76 236.7M358.96 247.2L363.56 251.8M358.96 251.8L363.56 247.2M361.77 258.2L366.37 262.8M361.77 262.8L366.37 258.2M364.57 265.7L369.17 270.3M364.57 270.3L369.17 265.7M367.38 273.2L371.98 277.8M367.38 277.8L371.98 273.2M370.18 277.7L374.78 282.3M370.18 282.3L374.78 277.7M372.99 280.2L377.59 284.8M372.99 284.8L377.59 280.2M375.79 277.7L380.39 282.3M375.79 282.3L380.39 277.7M378.6 272.2L383.2 276.8M378.6 276.8L383.2 272.2M381.41 270.2L386.01 274.8M381.41 274.8L386.01 270.2M384.21 269.2L388.81 273.8M384.21 273.8L388.81 269.2M387.02 268.7L391.62 273.3M387.02 273.3L391.62 268.7M389.82 268L394.42 272.6M389.82 272.6L394.42 268M392.63 267.2L397.23 271.8M392.63 271.8L397.23 267.2" fill="none" stroke="#00ff00" stroke-width="1.35"/>
<polyline points="30.21,235.5 33.01,236.5 35.82,234 38.62,231 41.43,227.5 44.23,224.5 47.04,221 49.84,218 52.65,215.5 55.46,213.3 58.26,212.2 61.07,218.5 63.87,228 66.68,230.5 69.48,232.3 72.29,237.5 75.09,251 77.9,266 80.71,284 83.51,295.5 86.32,301 89.12,306 91.93,308.3 94.73,310 97.54,312 100.34,311 103.15,305.5 105.96,297 108.76,238.5 111.57,238.5 114.37,232 117.18,222 119.98,217.5 122.79,215.8 125.59,214.5 128.4,212.5 131.21,201.6 134.01,208.8 136.82,210.5 139.62,213 142.43,219 145.23,229.5 148.04,240.5 150.84,252.3 153.65,259 156.46,264 159.26,265.6 162.07,265.6 164.87,254.5 167.68,247.5 170.48,248.2 173.29,249 176.09,252 178.9,257.5 181.71,268.9 184.51,282 187.32,293 190.12,300.5 192.93,306.3 195.73,310 198.54,311.7 201.34,272.5 204.15,266 206.96,257.5 209.76,254.5 212.57,254.2 215.37,256.8 218.18,259.5 220.98,262.5 223.79,266 226.59,269.5 229.4,274 232.21,278.5 235.01,283.5 237.82,288 240.62,292.3 243.43,296 246.23,299.2 249.04,302.2 251.84,305 254.65,309 257.46,312 260.26,312.2 263.07,310.2 265.87,306 268.68,299 271.48,293.5 274.29,288.5 277.09,284 279.9,280.5 282.71,277.5 285.51,229.8 288.32,228.5 291.12,226.8 293.93,228.5 296.73,231 299.54,236 302.34,242.5 305.15,251 307.96,258.3 310.76,263.5 313.57,267 316.37,268.7 319.18,267.4 321.98,264.3 324.79,260.5 327.59,257 330.4,234.5 333.21,240 336.01,243.5 338.82,249.7 341.62,260 344.43,273.5 347.23,285 350.04,292 352.84,295.5 355.65,288 358.46,291.5 361.26,293 364.07,288 366.87,286 369.68,285 372.48,284.5 375.29,284.5 378.09,286 380.9,288 383.71,292.5 386.51,300 389.32,305 392.12,308.5 394.93,310.5 397.73,311.7 400.54,312.5 403.34,312 411.76,305" fill="none" stroke="#ff0000" stroke-width="1.1" stroke-linejoin="round"/>
<path d="M145.89 238.35h4.3v4.3h-4.3zM148.69 250.15h4.3v4.3h-4.3zM151.5 256.85h4.3v4.3h-4.3zM154.31 261.85h4.3v4.3h-4.3zM157.11 263.45h4.3v4.3h-4.3zM159.92 263.45h4.3v4.3h-4.3zM162.72 252.35h4.3v4.3h-4.3zM165.53 245.35h4.3v4.3h-4.3zM168.33 246.05h4.3v4.3h-4.3zM171.14 246.85h4.3v4.3h-4.3zM173.94 249.85h4.3v4.3h-4.3zM176.75 255.35h4.3v4.3h-4.3zM179.56 266.75h4.3v4.3h-4.3zM182.36 279.85h4.3v4.3h-4.3zM185.17 290.85h4.3v4.3h-4.3zM297.39 233.85h4.3v4.3h-4.3zM300.19 240.35h4.3v4.3h-4.3zM303 248.85h4.3v4.3h-4.3zM305.81 256.15h4.3v4.3h-4.3zM308.61 261.35h4.3v4.3h-4.3zM311.42 264.85h4.3v4.3h-4.3zM314.22 266.55h4.3v4.3h-4.3zM317.03 265.25h4.3v4.3h-4.3zM319.83 262.15h4.3v4.3h-4.3zM322.64 258.35h4.3v4.3h-4.3zM325.44 254.85h4.3v4.3h-4.3zM328.25 232.35h4.3v4.3h-4.3zM331.06 237.85h4.3v4.3h-4.3zM333.86 241.35h4.3v4.3h-4.3zM336.67 247.55h4.3v4.3h-4.3z" fill="none" stroke="#ff0000" stroke-width="1.35"/>
<path d="M69.69 237.5a2.6 2.6 0 1 0 5.2 0a2.6 2.6 0 1 0 -5.2 0M72.49 251a2.6 2.6 0 1 0 5.2 0a2.6 2.6 0 1 0 -5.2 0M75.3 266a2.6 2.6 0 1 0 5.2 0a2.6 2.6 0 1 0 -5.2 0M78.11 284a2.6 2.6 0 1 0 5.2 0a2.6 2.6 0 1 0 -5.2 0M80.91 295.5a2.6 2.6 0 1 0 5.2 0a2.6 2.6 0 1 0 -5.2 0M83.72 301a2.6 2.6 0 1 0 5.2 0a2.6 2.6 0 1 0 -5.2 0M86.52 306a2.6 2.6 0 1 0 5.2 0a2.6 2.6 0 1 0 -5.2 0M89.33 308.3a2.6 2.6 0 1 0 5.2 0a2.6 2.6 0 1 0 -5.2 0M92.13 310a2.6 2.6 0 1 0 5.2 0a2.6 2.6 0 1 0 -5.2 0M94.94 312a2.6 2.6 0 1 0 5.2 0a2.6 2.6 0 1 0 -5.2 0M97.74 311a2.6 2.6 0 1 0 5.2 0a2.6 2.6 0 1 0 -5.2 0M100.55 305.5a2.6 2.6 0 1 0 5.2 0a2.6 2.6 0 1 0 -5.2 0M103.36 297a2.6 2.6 0 1 0 5.2 0a2.6 2.6 0 1 0 -5.2 0M106.16 238.5a2.6 2.6 0 1 0 5.2 0a2.6 2.6 0 1 0 -5.2 0M108.97 238.5a2.6 2.6 0 1 0 5.2 0a2.6 2.6 0 1 0 -5.2 0M223.99 269.5a2.6 2.6 0 1 0 5.2 0a2.6 2.6 0 1 0 -5.2 0M226.8 274a2.6 2.6 0 1 0 5.2 0a2.6 2.6 0 1 0 -5.2 0M229.61 278.5a2.6 2.6 0 1 0 5.2 0a2.6 2.6 0 1 0 -5.2 0M232.41 283.5a2.6 2.6 0 1 0 5.2 0a2.6 2.6 0 1 0 -5.2 0M235.22 288a2.6 2.6 0 1 0 5.2 0a2.6 2.6 0 1 0 -5.2 0M238.02 292.3a2.6 2.6 0 1 0 5.2 0a2.6 2.6 0 1 0 -5.2 0M240.83 296a2.6 2.6 0 1 0 5.2 0a2.6 2.6 0 1 0 -5.2 0M243.63 299.2a2.6 2.6 0 1 0 5.2 0a2.6 2.6 0 1 0 -5.2 0M246.44 302.2a2.6 2.6 0 1 0 5.2 0a2.6 2.6 0 1 0 -5.2 0M249.24 305a2.6 2.6 0 1 0 5.2 0a2.6 2.6 0 1 0 -5.2 0M252.05 309a2.6 2.6 0 1 0 5.2 0a2.6 2.6 0 1 0 -5.2 0M254.86 312a2.6 2.6 0 1 0 5.2 0a2.6 2.6 0 1 0 -5.2 0M257.66 312.2a2.6 2.6 0 1 0 5.2 0a2.6 2.6 0 1 0 -5.2 0M260.47 310.2a2.6 2.6 0 1 0 5.2 0a2.6 2.6 0 1 0 -5.2 0M263.27 306a2.6 2.6 0 1 0 5.2 0a2.6 2.6 0 1 0 -5.2 0M361.47 288a2.6 2.6 0 1 0 5.2 0a2.6 2.6 0 1 0 -5.2 0M364.27 286a2.6 2.6 0 1 0 5.2 0a2.6 2.6 0 1 0 -5.2 0M367.08 285a2.6 2.6 0 1 0 5.2 0a2.6 2.6 0 1 0 -5.2 0M369.88 284.5a2.6 2.6 0 1 0 5.2 0a2.6 2.6 0 1 0 -5.2 0M372.69 284.5a2.6 2.6 0 1 0 5.2 0a2.6 2.6 0 1 0 -5.2 0M375.49 286a2.6 2.6 0 1 0 5.2 0a2.6 2.6 0 1 0 -5.2 0M378.3 288a2.6 2.6 0 1 0 5.2 0a2.6 2.6 0 1 0 -5.2 0M381.11 292.5a2.6 2.6 0 1 0 5.2 0a2.6 2.6 0 1 0 -5.2 0M383.91 300a2.6 2.6 0 1 0 5.2 0a2.6 2.6 0 1 0 -5.2 0M386.72 305a2.6 2.6 0 1 0 5.2 0a2.6 2.6 0 1 0 -5.2 0M389.52 308.5a2.6 2.6 0 1 0 5.2 0a2.6 2.6 0 1 0 -5.2 0M392.33 310.5a2.6 2.6 0 1 0 5.2 0a2.6 2.6 0 1 0 -5.2 0M395.13 311.7a2.6 2.6 0 1 0 5.2 0a2.6 2.6 0 1 0 -5.2 0M397.94 312.5a2.6 2.6 0 1 0 5.2 0a2.6 2.6 0 1 0 -5.2 0M400.74 312a2.6 2.6 0 1 0 5.2 0a2.6 2.6 0 1 0 -5.2 0" fill="none" stroke="#ff0000" stroke-width="1.35"/>
<path d="M27.91 233.2L32.51 237.8M27.91 237.8L32.51 233.2M30.71 234.2L35.31 238.8M30.71 238.8L35.31 234.2M33.52 231.7L38.12 236.3M33.52 236.3L38.12 231.7M36.32 228.7L40.92 233.3M36.32 233.3L40.92 228.7M39.13 225.2L43.73 229.8M39.13 229.8L43.73 225.2M41.93 222.2L46.53 226.8M41.93 226.8L46.53 222.2M44.74 218.7L49.34 223.3M44.74 223.3L49.34 218.7M47.54 215.7L52.14 220.3M47.54 220.3L52.14 215.7M50.35 213.2L54.95 217.8M50.35 217.8L54.95 213.2M53.16 211L57.76 215.6M53.16 215.6L57.76 211M55.96 209.9L60.56 214.5M55.96 214.5L60.56 209.9M58.77 216.2L63.37 220.8M58.77 220.8L63.37 216.2M61.57 225.7L66.17 230.3M61.57 230.3L66.17 225.7M64.38 228.2L68.98 232.8M64.38 232.8L68.98 228.2M67.18 230L71.78 234.6M67.18 234.6L71.78 230M112.07 229.7L116.67 234.3M112.07 234.3L116.67 229.7M114.88 219.7L119.48 224.3M114.88 224.3L119.48 219.7M117.68 215.2L122.28 219.8M117.68 219.8L122.28 215.2M120.49 213.5L125.09 218.1M120.49 218.1L125.09 213.5M123.29 212.2L127.89 216.8M123.29 216.8L127.89 212.2M126.1 210.2L130.7 214.8M126.1 214.8L130.7 210.2M128.91 199.3L133.51 203.9M128.91 203.9L133.51 199.3M131.71 206.5L136.31 211.1M131.71 211.1L136.31 206.5M134.52 208.2L139.12 212.8M134.52 212.8L139.12 208.2M137.32 210.7L141.92 215.3M137.32 215.3L141.92 210.7M140.13 216.7L144.73 221.3M140.13 221.3L144.73 216.7M142.93 227.2L147.53 231.8M142.93 231.8L147.53 227.2M187.82 298.2L192.42 302.8M187.82 302.8L192.42 298.2M190.63 304L195.23 308.6M190.63 308.6L195.23 304M193.43 307.7L198.03 312.3M193.43 312.3L198.03 307.7M196.24 309.4L200.84 314M196.24 314L200.84 309.4M199.04 270.2L203.64 274.8M199.04 274.8L203.64 270.2M201.85 263.7L206.45 268.3M201.85 268.3L206.45 263.7M204.66 255.2L209.26 259.8M204.66 259.8L209.26 255.2M207.46 252.2L212.06 256.8M207.46 256.8L212.06 252.2M210.27 251.9L214.87 256.5M210.27 256.5L214.87 251.9M213.07 254.5L217.67 259.1M213.07 259.1L217.67 254.5M215.88 257.2L220.48 261.8M215.88 261.8L220.48 257.2M218.68 260.2L223.28 264.8M218.68 264.8L223.28 260.2M221.49 263.7L226.09 268.3M221.49 268.3L226.09 263.7M266.38 296.7L270.98 301.3M266.38 301.3L270.98 296.7M269.18 291.2L273.78 295.8M269.18 295.8L273.78 291.2M271.99 286.2L276.59 290.8M271.99 290.8L276.59 286.2M274.79 281.7L279.39 286.3M274.79 286.3L279.39 281.7M277.6 278.2L282.2 282.8M277.6 282.8L282.2 278.2M280.41 275.2L285.01 279.8M280.41 279.8L285.01 275.2M283.21 227.5L287.81 232.1M283.21 232.1L287.81 227.5M286.02 226.2L290.62 230.8M286.02 230.8L290.62 226.2M288.82 224.5L293.42 229.1M288.82 229.1L293.42 224.5M291.63 226.2L296.23 230.8M291.63 230.8L296.23 226.2M294.43 228.7L299.03 233.3M294.43 233.3L299.03 228.7M339.32 257.7L343.92 262.3M339.32 262.3L343.92 257.7M342.13 271.2L346.73 275.8M342.13 275.8L346.73 271.2M344.93 282.7L349.53 287.3M344.93 287.3L349.53 282.7M347.74 289.7L352.34 294.3M347.74 294.3L352.34 289.7M350.54 293.2L355.14 297.8M350.54 297.8L355.14 293.2M353.35 285.7L357.95 290.3M353.35 290.3L357.95 285.7M356.16 289.2L360.76 293.8M356.16 293.8L360.76 289.2M358.96 290.7L363.56 295.3M358.96 295.3L363.56 290.7" fill="none" stroke="#ff0000" stroke-width="1.35"/>
<rect x="157.5" y="186.5" width="245" height="18" fill="#fff" stroke="#7d7d7d" stroke-width="1"/>
<path d="M159.8 195.5H176.8" stroke="#00ff00" stroke-width="1.2"/>
<circle cx="168.3" cy="195.5" r="0.75" fill="#00ff00"/>
<path d="M274.2 195.5H291.4" stroke="#ff0000" stroke-width="1.2"/>
<circle cx="282.8" cy="195.5" r="0.75" fill="#ff0000"/>
<text x="178.6" y="199.9" class="lg">Refrence Curve Y</text>
<text x="293.3" y="199.9" class="lg">Comparison curve Y</text>
</svg>
</body></html>
